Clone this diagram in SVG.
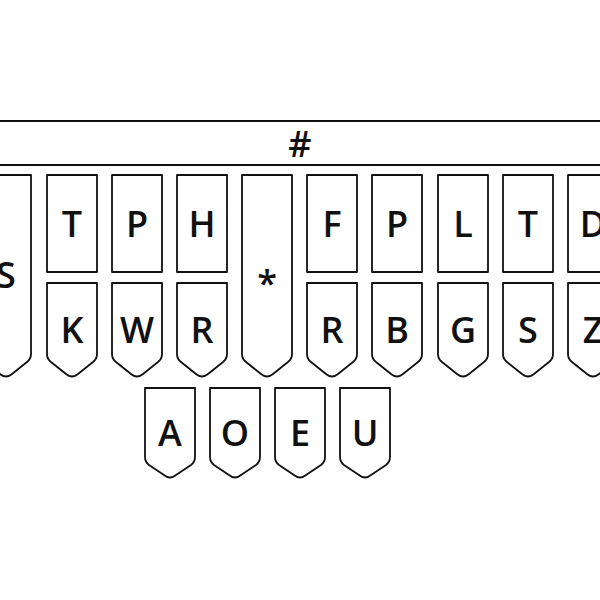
<svg xmlns="http://www.w3.org/2000/svg" width="600" height="600" viewBox="0 0 600 600">
<defs>
<style>
.k{fill:#fff;stroke:#111;stroke-width:1.8;stroke-linejoin:round}
.t{font-family:"Open Sans","Noto Sans",sans-serif;font-size:36px;font-weight:600;fill:#111;text-anchor:middle}
</style>
<path id="top" d="M0,175 H50 V272 H0 Z"/>
<path id="bot" d="M0,283 H50 V354 Q50,359 46,362 L31,374 Q25,379 19,374 L4,362 Q0,359 0,354 Z"/>
<path id="long" d="M0,175 H50 V354 Q50,359 46,362 L31,374 Q25,379 19,374 L4,362 Q0,359 0,354 Z"/>
<path id="vow" d="M0,388 H50 V457 Q50,462 46,465 L31,475 Q25,480 19,475 L4,465 Q0,462 0,457 Z"/>
</defs>
<rect width="600" height="600" fill="#fff"/>
<g id="numberbar">
<rect class="k" x="-10" y="121" width="620" height="44"/>
<text class="t" x="300" y="157">#</text>
</g>
<g id="key-S"><use href="#long" class="k" x="-19"/><text class="t" x="6" y="288">S</text></g>
<g id="key-T"><use href="#top" class="k" x="47"/><text class="t" x="72" y="237">T</text></g>
<g id="key-P"><use href="#top" class="k" x="112"/><text class="t" x="137" y="237">P</text></g>
<g id="key-H"><use href="#top" class="k" x="177"/><text class="t" x="202" y="237">H</text></g>
<g id="key-star"><use href="#long" class="k" x="242"/><text class="t" x="267" y="296">*</text></g>
<g id="key-F"><use href="#top" class="k" x="307"/><text class="t" x="332" y="237">F</text></g>
<g id="key-P2"><use href="#top" class="k" x="372"/><text class="t" x="397" y="237">P</text></g>
<g id="key-L"><use href="#top" class="k" x="438"/><text class="t" x="463" y="237">L</text></g>
<g id="key-T2"><use href="#top" class="k" x="503"/><text class="t" x="528" y="237">T</text></g>
<g id="key-D"><use href="#top" class="k" x="568"/><text class="t" x="593" y="237">D</text></g>
<g id="key-K"><use href="#bot" class="k" x="47"/><text class="t" x="72" y="343">K</text></g>
<g id="key-W"><use href="#bot" class="k" x="112"/><text class="t" x="137" y="343">W</text></g>
<g id="key-R"><use href="#bot" class="k" x="177"/><text class="t" x="202" y="343">R</text></g>
<g id="key-R2"><use href="#bot" class="k" x="307"/><text class="t" x="332" y="343">R</text></g>
<g id="key-B"><use href="#bot" class="k" x="372"/><text class="t" x="397" y="343">B</text></g>
<g id="key-G"><use href="#bot" class="k" x="438"/><text class="t" x="463" y="343">G</text></g>
<g id="key-S2"><use href="#bot" class="k" x="503"/><text class="t" x="528" y="343">S</text></g>
<g id="key-Z"><use href="#bot" class="k" x="568"/><text class="t" x="593" y="343">Z</text></g>
<g id="key-A"><use href="#vow" class="k" x="145"/><text class="t" x="170" y="446">A</text></g>
<g id="key-O"><use href="#vow" class="k" x="210"/><text class="t" x="235" y="446">O</text></g>
<g id="key-E"><use href="#vow" class="k" x="275"/><text class="t" x="300" y="446">E</text></g>
<g id="key-U"><use href="#vow" class="k" x="340"/><text class="t" x="365" y="446">U</text></g>
</svg>
